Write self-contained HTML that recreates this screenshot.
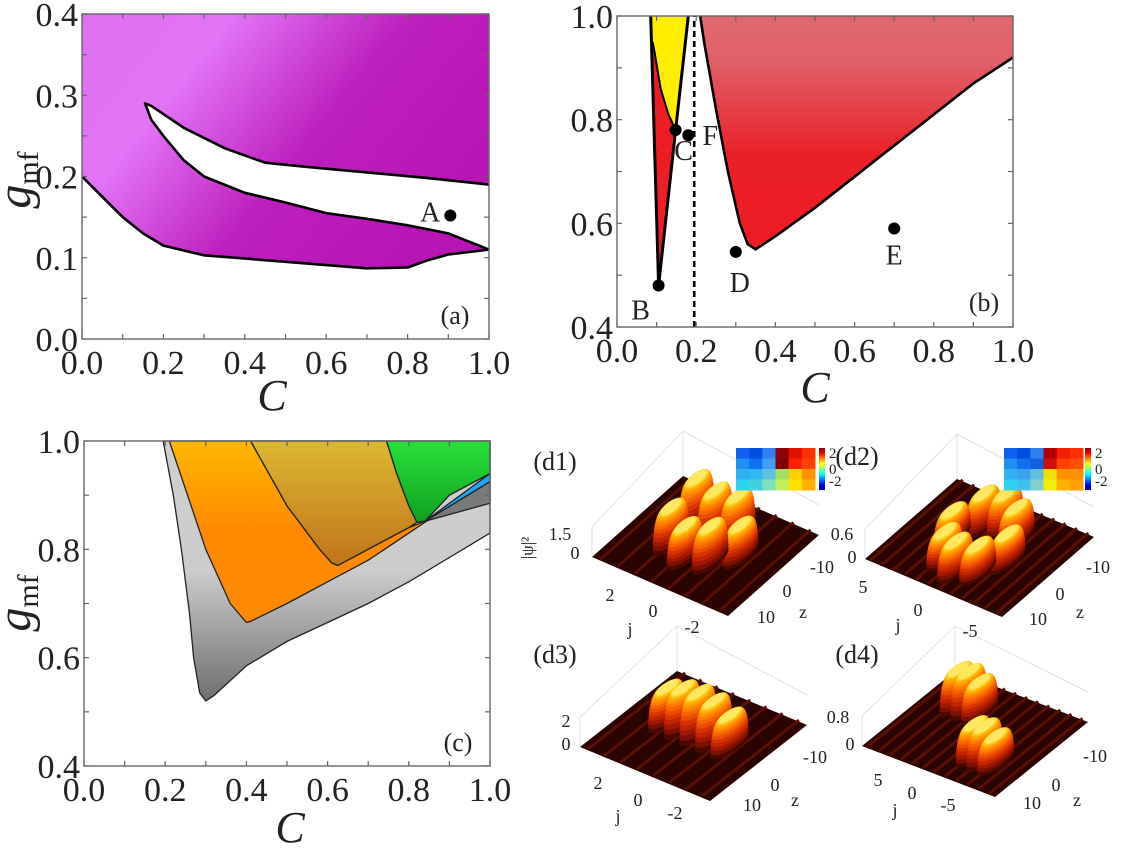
<!DOCTYPE html>
<html><head><meta charset="utf-8"><style>
html,body{margin:0;padding:0;background:#fff;}
svg{display:block;font-family:"Liberation Serif",serif;}
</style></head><body>
<svg id="fig" width="1122" height="848" viewBox="0 0 1122 848" xmlns="http://www.w3.org/2000/svg">
<defs>
<linearGradient id="gPurple" x1="0" y1="0" x2="1" y2="0.5"><stop offset="0" stop-color="#e070f2"/><stop offset="0.3" stop-color="#e274f6"/><stop offset="0.65" stop-color="#bd20bd"/><stop offset="1" stop-color="#b815b5"/></linearGradient>
<linearGradient id="gRed" x1="0" y1="0" x2="0" y2="1"><stop offset="0" stop-color="#e06870"/><stop offset="0.2" stop-color="#e06068"/><stop offset="0.6" stop-color="#ea2028"/><stop offset="1" stop-color="#ee1c24"/></linearGradient>
<linearGradient id="gGray" x1="0" y1="0" x2="0" y2="1"><stop offset="0" stop-color="#cfcfcf"/><stop offset="0.5" stop-color="#cccccc"/><stop offset="1" stop-color="#6e6e6e"/></linearGradient>
<linearGradient id="gOrange" x1="0" y1="0" x2="0" y2="1"><stop offset="0" stop-color="#ffb800"/><stop offset="0.5" stop-color="#ff8a00"/><stop offset="1" stop-color="#ff8800"/></linearGradient>
<linearGradient id="gTan" x1="0" y1="0" x2="0" y2="1"><stop offset="0" stop-color="#dcb832"/><stop offset="1" stop-color="#c0741a"/></linearGradient>
<linearGradient id="gGreen" x1="0" y1="0" x2="0" y2="1"><stop offset="0" stop-color="#28e03a"/><stop offset="1" stop-color="#10a020"/></linearGradient>
<linearGradient id="gJet" x1="0" y1="1" x2="0" y2="0"><stop offset="0" stop-color="#00008f"/><stop offset="0.125" stop-color="#0000ff"/><stop offset="0.375" stop-color="#00ffff"/><stop offset="0.625" stop-color="#ffff00"/><stop offset="0.875" stop-color="#ff0000"/><stop offset="1" stop-color="#800000"/></linearGradient>
</defs>
<g id="root"></g>
</svg>
<script>
// ---------- data ----------
const aTicksX = [0.0,0.2,0.4,0.6,0.8,1.0];
const aTicksY = [0.0,0.1,0.2,0.3,0.4];
const aLowerBoundC = [0,0.05,0.1,0.15,0.2,0.3,0.5,0.7,0.8,0.85,0.9,1.0];
const aLowerBoundG = [0.2,0.175,0.15,0.13,0.115,0.103,0.095,0.087,0.088,0.097,0.104,0.11];
const aChanLowC = [1.0,0.9,0.8,0.7,0.6,0.5,0.4,0.3,0.25,0.2,0.17,0.155];
const aChanLowG = [0.11,0.13,0.14,0.148,0.155,0.168,0.18,0.2,0.22,0.25,0.27,0.29];
const aChanUpC = [0.155,0.17,0.25,0.35,0.45,0.55,0.7,0.85,1.0];
const aChanUpG = [0.29,0.287,0.26,0.235,0.217,0.212,0.205,0.198,0.19];
const aPointA = [0.905,0.152];

const bTicksX = [0.0,0.2,0.4,0.6,0.8,1.0];
const bTicksY = [0.4,0.6,0.8,1.0];
const bRedC = [0.21,0.22,0.25,0.28,0.31,0.33,0.35,0.4,0.5,0.6,0.7,0.8,0.9,1.0];
const bRedG = [1.0,0.95,0.82,0.7,0.6,0.56,0.55,0.575,0.63,0.69,0.75,0.81,0.87,0.92];
const bWedgeC = [0.085,0.105,0.148,0.18];
const bWedgeG = [1.0,0.48,0.78,1.0];
const bYellowC = [0.09,0.095,0.11,0.13,0.148];
const bYellowG = [0.95,0.93,0.86,0.81,0.78];
const bDashC = 0.195;
const bPtsName = ["B","C","F","D","E"];
const bPtsC = [0.105,0.148,0.18,0.3,0.7];
const bPtsG = [0.48,0.78,0.77,0.545,0.59];

const cTicksX = [0.0,0.2,0.4,0.6,0.8,1.0];
const cTicksY = [0.4,0.6,0.8,1.0];
const cGrayC = [0.195,0.22,0.24,0.26,0.27,0.285,0.3,0.32,0.4,0.5,0.6,0.7,0.8,0.9,1.0,1.0];
const cGrayG = [1.0,0.9,0.8,0.68,0.6,0.535,0.52,0.53,0.585,0.63,0.665,0.7,0.74,0.785,0.83,1.0];
const cOrangeC = [0.21,0.41,0.5,0.58,0.61,0.625,0.7,0.8,0.85,0.8,0.7,0.6,0.5,0.41,0.4,0.36,0.3];
const cOrangeG = [1.0,1.0,0.88,0.8,0.775,0.77,0.8,0.84,0.855,0.83,0.78,0.74,0.7,0.667,0.665,0.7,0.8];
const cTanC = [0.41,0.745,0.77,0.8,0.82,0.8,0.7,0.625,0.61,0.58,0.5];
const cTanG = [1.0,1.0,0.94,0.88,0.85,0.84,0.8,0.77,0.775,0.8,0.88];
const cGreenC = [0.745,1.0,1.0,0.9,0.84,0.82,0.8,0.77];
const cGreenG = [1.0,1.0,0.94,0.9,0.852,0.85,0.88,0.94];
const cBlueC = [0.84,1.0,1.0];
const cBlueG = [0.852,0.94,0.925];
const cDarkC = [0.84,1.0,1.0];
const cDarkG = [0.852,0.925,0.885];

// hump data for 3D panels: u (j dir), v (z dir), height
const d1HumpU = [0.3,0.3,0.45,0.45,0.6,0.6,0.72];
const d1HumpV = [0.42,0.7,0.35,0.68,0.4,0.7,0.55];
const d1HumpH = [34,40,30,38,34,40,30];
const d2HumpU = [0.3,0.38,0.5,0.62,0.7,0.62,0.5,0.38];
const d2HumpV = [0.5,0.72,0.78,0.72,0.5,0.3,0.24,0.3];
const d2HumpH = [26,30,32,30,26,26,28,26];
const d3HumpU = [0.26,0.38,0.5,0.62,0.74];
const d3HumpV = [0.55,0.55,0.55,0.55,0.55];
const d3HumpH = [32,38,40,38,30];
const d4HumpU = [0.22,0.3,0.38,0.62,0.7,0.78];
const d4HumpV = [0.72,0.72,0.72,0.32,0.32,0.32];
const d4HumpH = [34,36,30,30,32,26];

// ---------- helpers ----------
const NS="http://www.w3.org/2000/svg";
const root=document.getElementById('root');
function mk(tag,attrs,parent){const e=document.createElementNS(NS,tag);for(const k in attrs)e.setAttribute(k,attrs[k]);(parent||root).appendChild(e);return e;}
function txt(s,x,y,size,parent,extra){const e=mk('text',Object.assign({x:x,y:y,'font-size':size,fill:'#222'},extra||{}),parent);e.textContent=s;return e;}
function axes(px0,px1,py0,py1,c0,c1,g0,g1){return {X:c=>px0+(px1-px0)*(c-c0)/(c1-c0),Y:g=>py1-(py1-py0)*(g-g0)/(g1-g0)};}
function pts(A,Cs,Gs){return Cs.map((c,i)=>A.X(c).toFixed(1)+','+A.Y(Gs[i]).toFixed(1));}
function frame(g,px0,px1,py0,py1,A,ticksX,ticksY,minorX,minorY,gy0,gy1){
  const f=mk('rect',{x:px0,y:py0,width:px1-px0,height:py1-py0,fill:'none',stroke:'#666','stroke-width':1.4},g);
  
  for(let c=0;c<=1.0001;c+=minorX){const x=A.X(c);mk('line',{x1:x,y1:py1,x2:x,y2:py1-5,stroke:'#666','stroke-width':1.2},g);mk('line',{x1:x,y1:py0,x2:x,y2:py0+5,stroke:'#666','stroke-width':1.2},g);}
  for(let v=gy0;v<=gy1+1e-6;v+=minorY){const y=A.Y(v);mk('line',{x1:px0,y1:y,x2:px0+5,y2:y,stroke:'#666','stroke-width':1.2},g);mk('line',{x1:px1,y1:y,x2:px1-5,y2:y,stroke:'#666','stroke-width':1.2},g);}
  ticksX.forEach(c=>{const t=txt(c.toFixed(1),A.X(c),py1+35,34,g,{'text-anchor':'middle'});});
  ticksY.forEach(v=>{const t=txt(v.toFixed(1),px0-4,A.Y(v)+12,34,g,{'text-anchor':'end'});});
}
function xTitle(g,x,y){const t=txt('C',x,y,44,g,{'font-style':'italic','text-anchor':'middle'});}
function yTitle(g,x,y){const t=mk('text',{x:0,y:0,'font-size':48,fill:'#222',transform:`translate(${x},${y}) rotate(-90)`,'text-anchor':'middle'},g);
  
  const a=mk('tspan',{'font-style':'italic'},t);a.textContent='g';const b=mk('tspan',{'font-size':30,dy:8},t);b.textContent='mf';}
function dot(g,x,y,name){const d=mk('circle',{cx:x,cy:y,r:6,fill:'#000'},g);}

// ---------- panel a ----------
(function(){
  const g=mk('g',{});
  const A=axes(82,489,14,339,0,1,0,0.4);
  const poly=[A.X(0)+','+A.Y(0.4),A.X(1)+','+A.Y(0.4)].concat(pts(A,aChanUpC.slice().reverse(),aChanUpG.slice().reverse())).concat(pts(A,aChanLowC.slice().reverse(),aChanLowG.slice().reverse()).slice(1)).concat(pts(A,aLowerBoundC.slice().reverse(),aLowerBoundG.slice().reverse()).slice(1));
  const r=mk('polygon',{points:poly.join(' '),fill:'url(#gPurple)'},g);
  const l1=mk('polyline',{points:pts(A,aLowerBoundC,aLowerBoundG).join(' '),fill:'none',stroke:'#000','stroke-width':2.6,'stroke-linejoin':'round'},g);
  const l2=mk('polyline',{points:pts(A,aChanLowC,aChanLowG).concat(pts(A,aChanUpC,aChanUpG)).join(' '),fill:'none',stroke:'#000','stroke-width':2.6,'stroke-linejoin':'round'},g);
  frame(g,82,489,14,339,A,aTicksX,aTicksY,0.1,0.05,0,0.4);
  dot(g,A.X(aPointA[0]),A.Y(aPointA[1]),'point-a');
  const la=txt('A',A.X(aPointA[0])-10,A.Y(aPointA[1])+6,28,g,{'text-anchor':'end'});
  const pl=txt('(a)',455,324,26,g,{'text-anchor':'middle'});
  xTitle(g,272,410);yTitle(g,30,180);
})();

// ---------- panel b ----------
(function(){
  const g=mk('g',{});
  const A=axes(617,1013,16,327,0,1,0.4,1.0);
  const red=mk('polygon',{points:pts(A,bRedC,bRedG).concat([A.X(1)+','+A.Y(1)]).join(' '),fill:'url(#gRed)'},g);
  const rl=mk('polyline',{points:pts(A,bRedC,bRedG).join(' '),fill:'none',stroke:'#000','stroke-width':2.6},g);
  const w=mk('polygon',{points:pts(A,bWedgeC,bWedgeG).join(' '),fill:'#ee1c24'},g);
  const y=mk('polygon',{points:pts(A,bYellowC,bYellowG).concat([A.X(0.18)+','+A.Y(1),A.X(0.088)+','+A.Y(1)]).join(' '),fill:'#ffee00'},g);
  mk('polyline',{points:pts(A,bWedgeC,bWedgeG).join(' '),fill:'none',stroke:'#000','stroke-width':3},g);
  mk('polyline',{points:pts(A,bYellowC,bYellowG).join(' '),fill:'none',stroke:'#000','stroke-width':2},g);
  const dl=mk('line',{x1:A.X(bDashC),y1:A.Y(0.4),x2:A.X(bDashC),y2:A.Y(1.0),stroke:'#000','stroke-width':2.6,'stroke-dasharray':'6,4'},g);
  frame(g,617,1013,16,327,A,bTicksX,bTicksY,0.1,0.1,0.4,1.0);
  const off={B:[-18,34],C:[8,30],F:[22,10],D:[4,40],E:[0,36]};
  bPtsName.forEach((n,i)=>{const x=A.X(bPtsC[i]),yy=A.Y(bPtsG[i]);dot(g,x,yy,'point-'+n.toLowerCase());
    const t=txt(n,x+off[n][0],yy+off[n][1],28,g,{'text-anchor':'middle'});});
  const pl=txt('(b)',984,311,26,g,{'text-anchor':'middle'});
  xTitle(g,815,402);
})();

// ---------- panel c ----------
(function(){
  const g=mk('g',{});
  const A=axes(84,490,441,766,0,1,0.4,1.0);
  const sets=[[cGrayC,cGrayG,'url(#gGray)','gray-region'],[cDarkC,cDarkG,'#7a7a7a','dark-gray-region'],[cBlueC,cBlueG,'#1ea8f0','blue-region'],[cGreenC,cGreenG,'url(#gGreen)','green-region'],[cTanC,cTanG,'url(#gTan)','tan-region'],[cOrangeC,cOrangeG,'url(#gOrange)','orange-region']];
  sets.forEach(s=>{const p=mk('polygon',{points:pts(A,s[0],s[1]).join(' '),fill:s[2],stroke:'#222','stroke-width':1.3,'stroke-linejoin':'round'},g);});
  frame(g,84,490,441,766,A,cTicksX,cTicksY,0.1,0.1,0.4,1.0);
  const pl=txt('(c)',458,751,26,g,{'text-anchor':'middle'});
  xTitle(g,290,842);yTitle(g,30,603);
})();

// ---------- 3D panels ----------
function surf(name,L,F,B,HU,HV,HH,nStripes){
  const g=mk('g',{});
  const P=(u,v)=>[L[0]+u*(F[0]-L[0])+v*(B[0]-L[0]),L[1]+u*(F[1]-L[1])+v*(B[1]-L[1])];
  const R=P(1,1);
  mk('polyline',{points:`${L[0]},${L[1]} ${L[0]},${L[1]-30} ${B[0]},${B[1]-45} ${R[0]},${R[1]-30}`,fill:'none',stroke:'#e2e2e2','stroke-width':1},g);
  mk('polyline',{points:`${B[0]},${B[1]} ${B[0]},${B[1]-45}`,fill:'none',stroke:'#e2e2e2','stroke-width':1},g);
  const base=mk('polygon',{points:[L,F,R,B].map(p=>p.join(',')).join(' '),fill:'#2a0500'},g);
  for(let k=0;k<nStripes;k++){const u=(k+0.5)/nStripes;const a=P(u,0),b=P(u,1);mk('line',{x1:a[0],y1:a[1]-1.5,x2:b[0],y2:b[1]-1.5,stroke:'#5a1000','stroke-width':3},g);}
  const idx=HU.map((_,i)=>i).sort((i,j)=>(HU[i]-HV[i])-(HU[j]-HV[j]));
  const cols=['#4a0800','#7a1000','#a01800','#c02400','#d83400','#ea4c00','#f56400','#ff7c00','#ff9400','#ffaa00','#ffc010','#ffd830','#ffe860'];
  idx.forEach(i=>{
    const hump=mk('g',{},g);
    const n=cols.length;
    for(let s=0;s<n;s++){const f=s/(n-1);const sc=1-0.45*f*f;const ptsA=[];
      for(let t=0;t<28;t++){const an=t/28*2*Math.PI;const p=P(HU[i]+0.065*sc*Math.cos(an),HV[i]+0.18*sc*Math.sin(an));ptsA.push(p[0].toFixed(1)+','+(p[1]-HH[i]*Math.sin(f*Math.PI/2)).toFixed(1));}
      mk('polygon',{points:ptsA.join(' '),fill:cols[s]},hump);}
  });
  return g;
}
function lab(s,x,y,size,name,extra){const t=txt(s,x,y,size,root,extra||{'text-anchor':'middle'});return t;}
surf('surface-d1',[592,557],[728,616],[683,476],d1HumpU,d1HumpV,d1HumpH,8);
surf('surface-d2',[865,559],[1002,617],[957,479],d2HumpU,d2HumpV,d2HumpH,12);
surf('surface-d3',[580,747],[710,801],[677,671],d3HumpU,d3HumpV,d3HumpH,8);
surf('surface-d4',[862,746],[995,797],[955,671],d4HumpU,d4HumpV,d4HumpH,12);
lab('(d1)',555,470,26,'panel-label-d1');lab('(d2)',857,465,26,'panel-label-d2');
lab('(d3)',555,663,26,'panel-label-d3');lab('(d4)',857,663,26,'panel-label-d4');
const axl=[
 ['1.5',560,540],['0',575,559],['2',610,601],['0',653,617],['-2',692,633],['j',630,635],['-10',822,573],['0',787,597],['10',766,623],['z',803,618],
 ['0.6',842,540],['0',852,563],['5',863,593],['0',918,616],['j',898,631],['-5',970,637],['-10',1098,573],['0',1060,600],['10',1038,625],['z',1080,618],
 ['2',566,727],['0',566,750],['2',598,789],['0',638,806],['j',618,822],['-2',675,819],['-10',815,763],['0',775,791],['10',752,811],['z',795,806],
 ['0.8',838,723],['0',850,750],['5',878,786],['0',912,799],['j',895,816],['-5',948,811],['-10',1095,762],['0',1056,791],['10',1032,809],['z',1077,806]];
axl.forEach(a=>lab(a[0],a[1],a[2],18,'3d-axis-label'));
const psi=mk('text',{x:0,y:0,'font-size':17,fill:'#222',transform:'translate(533,548) rotate(-90)','text-anchor':'middle'});psi.textContent='|ψ|²';

function inset(name,x,y,w,h,cbx,cols){
  const g=mk('g',{});
  const nc=cols[0].length,nr=cols.length;
  cols.forEach((row,r)=>row.forEach((c,k)=>mk('rect',{x:x+k*w/nc,y:y+r*h/nr,width:w/nc+0.5,height:h/nr+0.5,fill:c},g)));
  const cb=mk('rect',{x:cbx,y:y,width:6,height:h,fill:'url(#gJet)'},g);
  [['2',y+10],['0',y+h/2+5],['-2',y+h-4]].forEach(t=>{const e=txt(t[0],cbx+10,t[1],15,g);});
}
inset('phase-inset-d1',736,448,79,42,819,[['#1060f0','#0050e0','#3080f0','#900000','#e01000','#ff3000'],['#2090f0','#1070f0','#40a0f0','#800000','#ff2000','#ff4000'],['#30b0f0','#30b8f0','#60c0e0','#a0e060','#ffd000','#ff9000'],['#30d0f0','#40d0e0','#80e0c0','#c0f060','#ffe000','#ffb000']]);
inset('phase-inset-d2',1004,448,79,42,1085,[['#1060f0','#0050e0','#3080f0','#b00000','#f02000','#ff3000'],['#2090f0','#1070f0','#1060e0','#d01000','#ff4000','#ff5000'],['#30b0f0','#40a0f0','#60c0e0','#f0e000','#ff9000','#ff9000'],['#30d0f0','#40c0f0','#80d0d0','#f0f000','#ffb000','#ffa000']]);
</script>
</body></html>
